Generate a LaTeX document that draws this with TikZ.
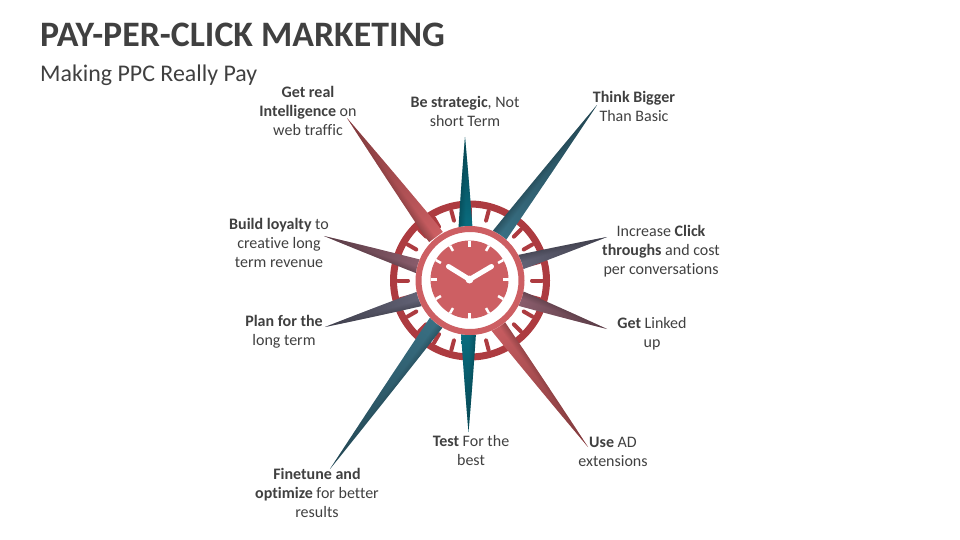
\documentclass[tikz,border=0pt]{standalone}
\usepackage{fontspec}
\setmainfont[Ligatures=NoCommon]{Carlito}
\usetikzlibrary{calc,fadings}
\definecolor{ringred}{HTML}{AD3B40}
\definecolor{salmon}{HTML}{CD5F63}
\definecolor{tealb}{HTML}{0B7285}
\definecolor{tealg}{HTML}{3A7286}
\definecolor{slate}{HTML}{66667A}
\definecolor{mauve}{HTML}{8F6070}
\definecolor{inkgrey}{HTML}{404040}
\tikzfading[name=tipfade, left color=transparent!100, middle color=transparent!100, right color=transparent!40]
\tikzset{
    lbl/.style={text=inkgrey, align=center, inner sep=0pt, font=\fontsize{16}{19}\selectfont},
    outertick/.style={ringred, line width=4pt, line cap=round},
    innertick/.style={white, line width=2.5pt},
    hand/.style={white, line width=5pt, line cap=round}
}
\begin{document}
\begin{tikzpicture}[x=1pt, y=-1pt]
    \useasboundingbox (0,0) rectangle (960,540);
    \coordinate (c) at (470,280.5);
    \coordinate (k) at (469.5,279.5);

    \node[anchor=west, inner sep=0pt, text=inkgrey, font=\fontsize{35.8}{40}\selectfont\bfseries] (title) at (40,34.5) {PAY-PER-CLICK MARKETING};
    \node[anchor=west, inner sep=0pt, text=inkgrey, font=\fontsize{23.9}{28}\selectfont] (subtitle) at (40,75.5) {Making PPC Really Pay};

    % outer dial
    \draw[ringred, line width=7pt] (c) circle (76.5);
    \foreach \a in {0,15,...,345}
        \draw[outertick] ($(c)+(\a:62)$) -- ($(c)+(\a:72)$);

    % spikes: base x/y, tip x/y, half width, colour
    \foreach[count=\x] \bx/\by/\tx/\ty/\w/\c in {
        465.5/228/465/137/7/tealb,
        500.5/234/597/105/8/tealg,
        430/229/347/118/8.5/salmon,
        521/262/607/237/7.5/slate,
        522/299/607/329/7.5/mauve,
        498/326/588/447/8/salmon,
        468.5/333/468.5/432/7.5/tealb,
        436/323/330/469/8/tealg,
        419/299/325/327/7.5/slate,
        417/266/324/236/7/mauve}
    {
        \pgfmathsetmacro{\ang}{atan2(\by-\ty,\tx-\bx)}
        \pgfmathsetmacro{\len}{veclen(\tx-\bx,\ty-\by)}
        \begin{scope}[transform canvas={shift={(\bx,\by)}, rotate=\ang}]
            \shade[top color=\c!75!black, bottom color=\c, middle color=\c]
                (-10,-\w) -- (0,-\w) .. controls (0.4*\len,-0.65*\w) and (0.75*\len,-0.28*\w) .. (\len,0)
                .. controls (0.75*\len,0.28*\w) and (0.4*\len,0.65*\w) .. (0,\w) -- (-10,\w) -- cycle;
            \fill[\c!35!black, path fading=tipfade]
                (-10,-\w) -- (0,-\w) .. controls (0.4*\len,-0.65*\w) and (0.75*\len,-0.28*\w) .. (\len,0)
                .. controls (0.75*\len,0.28*\w) and (0.4*\len,0.65*\w) .. (0,\w) -- (-10,\w) -- cycle;
        \end{scope}
    }

    % clock
    \fill[white] (c) circle (54.5);
    \draw[salmon, line width=6pt] (c) circle (51.5);
    \fill[salmon] (k) circle (39);
    \foreach \a in {0,30,...,330}
        \draw[innertick] ($(k)+(\a:39)$) -- ($(k)+(\a:33)$);
    \draw[hand] (k) -- (448.5,266.5);
    \draw[hand] (k) -- (491.5,266.5);
    \fill[white] (k) circle (4);

    \node[lbl] (real) at (308,111) {\textbf{Get real}\\\textbf{Intelligence} on\\web traffic};
    \node[lbl] (strategic) at (465,111.5) {\textbf{Be strategic}, Not\\short Term};
    \node[lbl] (bigger) at (634,106.5) {\textbf{Think Bigger}\\Than Basic};
    \node[lbl] (click) at (661,251) {Increase \textbf{Click}\\\textbf{throughs} and cost\\per conversations};
    \node[lbl] (linked) at (652,333.5) {\textbf{Get} Linked\\up};
    \node[lbl] (adext) at (613,451.5) {\textbf{Use} AD\\extensions};
    \node[lbl] (test) at (471,450.5) {\textbf{Test} For the\\best};
    \node[lbl] (finetune) at (317,493) {\textbf{Finetune and}\\\textbf{optimize} for better\\results};
    \node[lbl] (plan) at (284,332) {\textbf{Plan for the}\\long term};
    \node[lbl] (loyalty) at (279,243) {\textbf{Build loyalty} to\\creative long\\term revenue};
\end{tikzpicture}
\end{document}
